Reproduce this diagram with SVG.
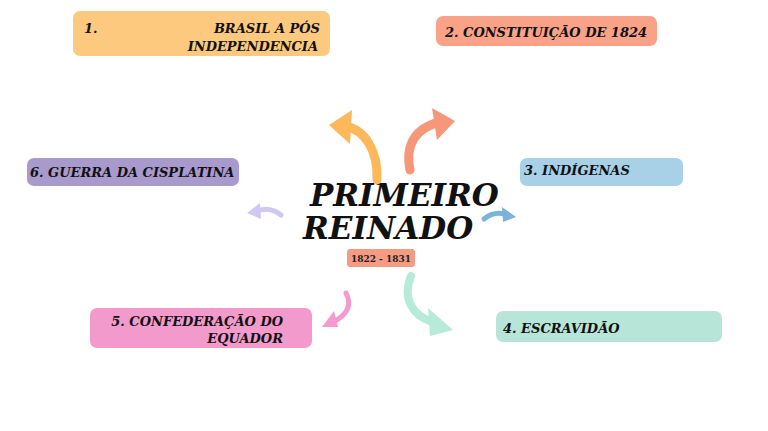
<svg xmlns="http://www.w3.org/2000/svg" width="768" height="431" viewBox="0 0 768 431">
<style>
.t{font-family:"DejaVu Serif","Liberation Serif",serif;font-weight:bold;font-style:italic;fill:#111;font-size:13px}
.c{font-family:"DejaVu Serif","Liberation Serif",serif;font-weight:900;font-style:italic;fill:#111;font-size:31px}
.a{fill:none;stroke-linecap:round}
</style>
<rect width="768" height="431" fill="#fff"/>
<g id="n1"><rect x="73" y="11" width="257" height="45" rx="7" fill="#FCC97E"/><text class="t" x="84" y="33">1.</text><text class="t" x="320" y="33" text-anchor="end">BRASIL A PÓS</text><text class="t" x="318" y="51" text-anchor="end">INDEPENDENCIA</text></g>
<g id="n2"><rect x="436" y="16" width="221" height="30" rx="7" fill="#F9A287"/><text class="t" x="546" y="37" text-anchor="middle">2. CONSTITUIÇÃO DE 1824</text></g>
<g id="n3"><rect x="520" y="158" width="163" height="28" rx="7" fill="#A8D0E6"/><text class="t" x="524" y="175">3. INDÍGENAS</text></g>
<g id="n4"><rect x="496" y="311" width="226" height="31" rx="7" fill="#B7E5D8"/><text class="t" x="503" y="333">4. ESCRAVIDÃO</text></g>
<g id="n5"><rect x="90" y="308" width="222" height="40" rx="7" fill="#F19ACB"/><text class="t" x="283" y="326" text-anchor="end">5. CONFEDERAÇÃO DO</text><text class="t" x="283" y="343" text-anchor="end">EQUADOR</text></g>
<g id="n6"><rect x="27" y="158" width="212" height="28" rx="7" fill="#A89ACD"/><text class="t" x="30" y="177">6. GUERRA DA CISPLATINA</text></g>
<g id="center"><text class="c" x="310" y="206">PRIMEIRO</text><text class="c" x="303" y="239">REINADO</text>
<rect x="347" y="249" width="68" height="18" rx="3" fill="#F49B82"/><text x="381" y="262" text-anchor="middle" style="font-family:'DejaVu Serif',serif;font-size:9px;font-weight:bold;fill:#222">1822 - 1831</text></g>
<g id="connectors">
<path class="a" d="M377 180 C378 150 365 130 345 126" stroke="#FDB85C" stroke-width="9"/><polygon points="329,125 352,110 350,144" fill="#FDB85C"/>
<path class="a" d="M410 170 C405 145 415 128 440 122" stroke="#F6977A" stroke-width="9"/><polygon points="455,121 432,108 437,140" fill="#F6977A"/>
<path class="a" d="M484 219 C490 214 497 212 505 214" stroke="#7BB3DB" stroke-width="5"/><polygon points="516,217 502,207 503,222" fill="#7BB3DB"/>
<path class="a" d="M281 215 C274 209 265 208 258 211" stroke="#D1C8F2" stroke-width="5"/><polygon points="247,213 260,203 261,219" fill="#D1C8F2"/>
<path class="a" d="M346 293 C352 304 348 315 333 322" stroke="#F49ACD" stroke-width="5"/><polygon points="322,327 334,311 338,327" fill="#F49ACD"/>
<path class="a" d="M411 276 C402 298 412 315 432 322" stroke="#B6EAD9" stroke-width="8"/><polygon points="453,330 428,308 430,336" fill="#B6EAD9"/>
</g>
</svg>
